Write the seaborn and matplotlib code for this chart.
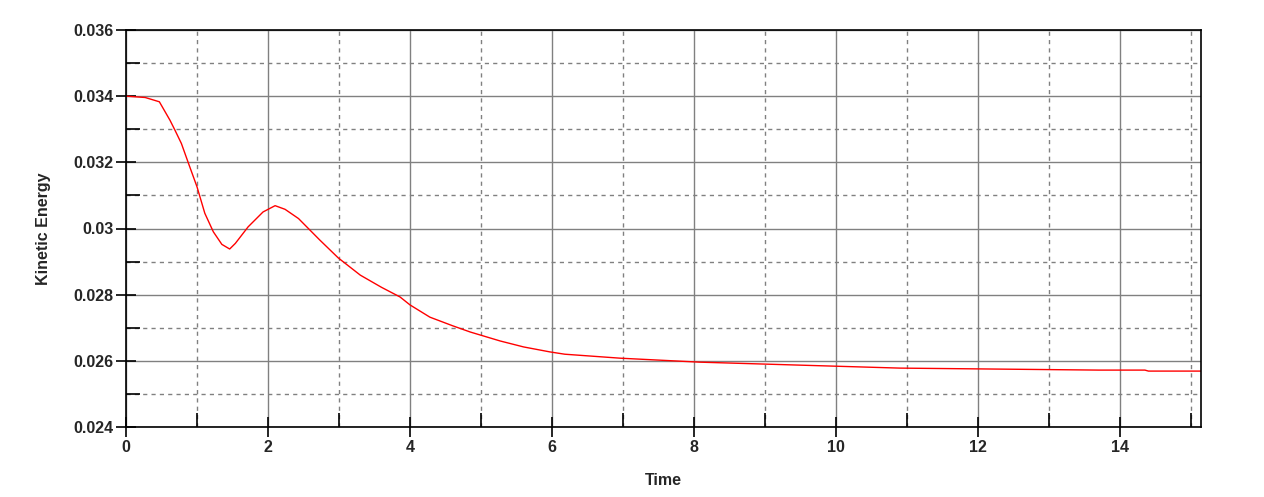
import matplotlib
matplotlib.use("Agg")
import matplotlib.pyplot as plt
import seaborn as sns
import pandas as pd
from matplotlib.ticker import MultipleLocator

time = [0.0, 0.27, 0.47, 0.62, 0.69, 0.78, 0.88, 1.0, 1.11, 1.23, 1.35, 1.46,
        1.54, 1.72, 1.93, 2.1, 2.24, 2.43, 2.73, 2.99, 3.3, 3.6, 3.86, 4.0,
        4.28, 4.6, 4.85, 5.27, 5.6, 5.97, 6.18, 6.96, 8.08, 9.49, 10.9, 12.3,
        13.7, 14.35, 14.4, 15.14]
energy = [0.0340, 0.03396, 0.03383, 0.03327, 0.03297, 0.03257, 0.03197, 0.03126,
          0.03046, 0.0299, 0.02952, 0.02938, 0.02955, 0.03005, 0.0305, 0.03069,
          0.03058, 0.0303, 0.02965, 0.02911, 0.02859, 0.02822, 0.02793, 0.02769,
          0.02732, 0.02706, 0.02687, 0.0266, 0.02642, 0.02627, 0.0262, 0.02608,
          0.02596, 0.02587, 0.02578, 0.02575, 0.02572, 0.02572, 0.02569, 0.02569]

df = pd.DataFrame({"Time": time, "Kinetic Energy": energy})

sns.set_theme(style="white")
plt.rcParams["font.family"] = ["Liberation Sans", "DejaVu Sans"]

fig = plt.figure(figsize=(12.64, 4.97), dpi=100)
ax = fig.add_axes([126/1264, 70/497, 1075/1264, 397/497])

sns.lineplot(data=df, x="Time", y="Kinetic Energy", ax=ax, color="#ff0000",
             linewidth=1.0, estimator=None, sort=False)

ax.set_xlim(0, 15.14)
ax.set_ylim(0.024, 0.036)
ax.xaxis.set_major_locator(MultipleLocator(2))
ax.xaxis.set_minor_locator(MultipleLocator(1))
ax.yaxis.set_major_locator(MultipleLocator(0.002))
ax.yaxis.set_minor_locator(MultipleLocator(0.001))
ax.set_yticks([0.024, 0.026, 0.028, 0.03, 0.032, 0.034, 0.036])
ax.set_yticklabels(["0.024", "0.026", "0.028", "0.03", "0.032", "0.034", "0.036"])

ax.grid(which="major", color="#808080", linestyle="-", linewidth=1.0)
ax.grid(which="minor", color="#808080", linestyle=(0, (3, 3)), linewidth=1.0)
ax.set_axisbelow(True)

for s in ax.spines.values():
    s.set_color("black")
    s.set_linewidth(1.2)
    s.set_visible(True)

ax.tick_params(which="major", direction="inout", length=14, width=1.2,
               color="black", labelsize=11.5, pad=2, bottom=True, left=True,
               top=False, right=False)
ax.tick_params(which="minor", direction="in", length=10, width=1.2,
               color="black", bottom=True, left=True, top=False, right=False)
for lab in ax.get_xticklabels() + ax.get_yticklabels():
    lab.set_fontweight("bold")

ax.set_xlabel("Time", fontsize=11.5, fontweight="bold", labelpad=13)
ax.set_ylabel("Kinetic Energy", fontsize=11.5, fontweight="bold", labelpad=16)

fig.savefig("out.png", dpi=100)
